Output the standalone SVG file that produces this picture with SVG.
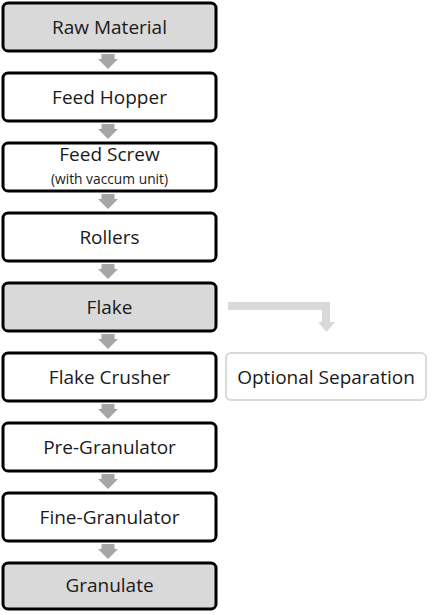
<svg xmlns="http://www.w3.org/2000/svg" width="432" height="615" viewBox="0 0 432 615">
<defs>
<style>
.box{stroke:#000;stroke-width:3;}
.w{fill:#fff;}
.g{fill:#d9d9d9;}
.t{font-family:"Open Sans","Liberation Sans",sans-serif;font-size:19px;fill:#1a1a1a;text-anchor:middle;}
.s{font-size:13.8px;}
.arr{fill:#a6a6a6;}
.opt{fill:#fff;stroke:#d9d9d9;stroke-width:2;}
.el{fill:#d9d9d9;}
</style>
<path id="down" d="M-6.5,0 H6.5 V5 H10 L0,15 L-10,5 H-6.5 Z"/>
</defs>
<rect width="432" height="615" fill="#fff"/>
<g id="connectors">
<use href="#down" class="arr" x="108" y="54"/>
<use href="#down" class="arr" x="108" y="124"/>
<use href="#down" class="arr" x="108" y="194"/>
<use href="#down" class="arr" x="108" y="264"/>
<use href="#down" class="arr" x="108" y="334"/>
<use href="#down" class="arr" x="108" y="404"/>
<use href="#down" class="arr" x="108" y="474"/>
<use href="#down" class="arr" x="108" y="544"/>
<path class="el" d="M228,302 H330 V322 H335 L326.5,332 L318,322 H322 V310 H228 Z"/>
</g>
<g id="n1"><rect class="box g" x="3" y="3" width="213" height="48" rx="5"/><text class="t" x="109.5" y="33.5">Raw Material</text></g>
<g id="n2"><rect class="box w" x="3" y="73" width="213" height="48" rx="5"/><text class="t" x="109.5" y="103.5">Feed Hopper</text></g>
<g id="n3"><rect class="box w" x="3" y="143" width="213" height="48" rx="5"/><text class="t" x="109.5" y="161">Feed Screw</text><text class="t s" x="109.5" y="183.5">(with vaccum unit)</text></g>
<g id="n4"><rect class="box w" x="3" y="213" width="213" height="48" rx="5"/><text class="t" x="109.5" y="243.5">Rollers</text></g>
<g id="n5"><rect class="box g" x="3" y="283" width="213" height="48" rx="5"/><text class="t" x="109.5" y="313.5">Flake</text></g>
<g id="n6"><rect class="box w" x="3" y="353" width="213" height="48" rx="5"/><text class="t" x="109.5" y="383.5">Flake Crusher</text></g>
<g id="n7"><rect class="box w" x="3" y="423" width="213" height="48" rx="5"/><text class="t" x="109.5" y="453.5">Pre-Granulator</text></g>
<g id="n8"><rect class="box w" x="3" y="493" width="213" height="48" rx="5"/><text class="t" x="109.5" y="523.5">Fine-Granulator</text></g>
<g id="n9"><rect class="box g" x="3" y="563" width="213" height="46" rx="5"/><text class="t" x="109.5" y="592">Granulate</text></g>
<g id="n10"><rect class="opt" x="226" y="353" width="200" height="47" rx="5"/><text class="t" x="326" y="384">Optional Separation</text></g>
</svg>
